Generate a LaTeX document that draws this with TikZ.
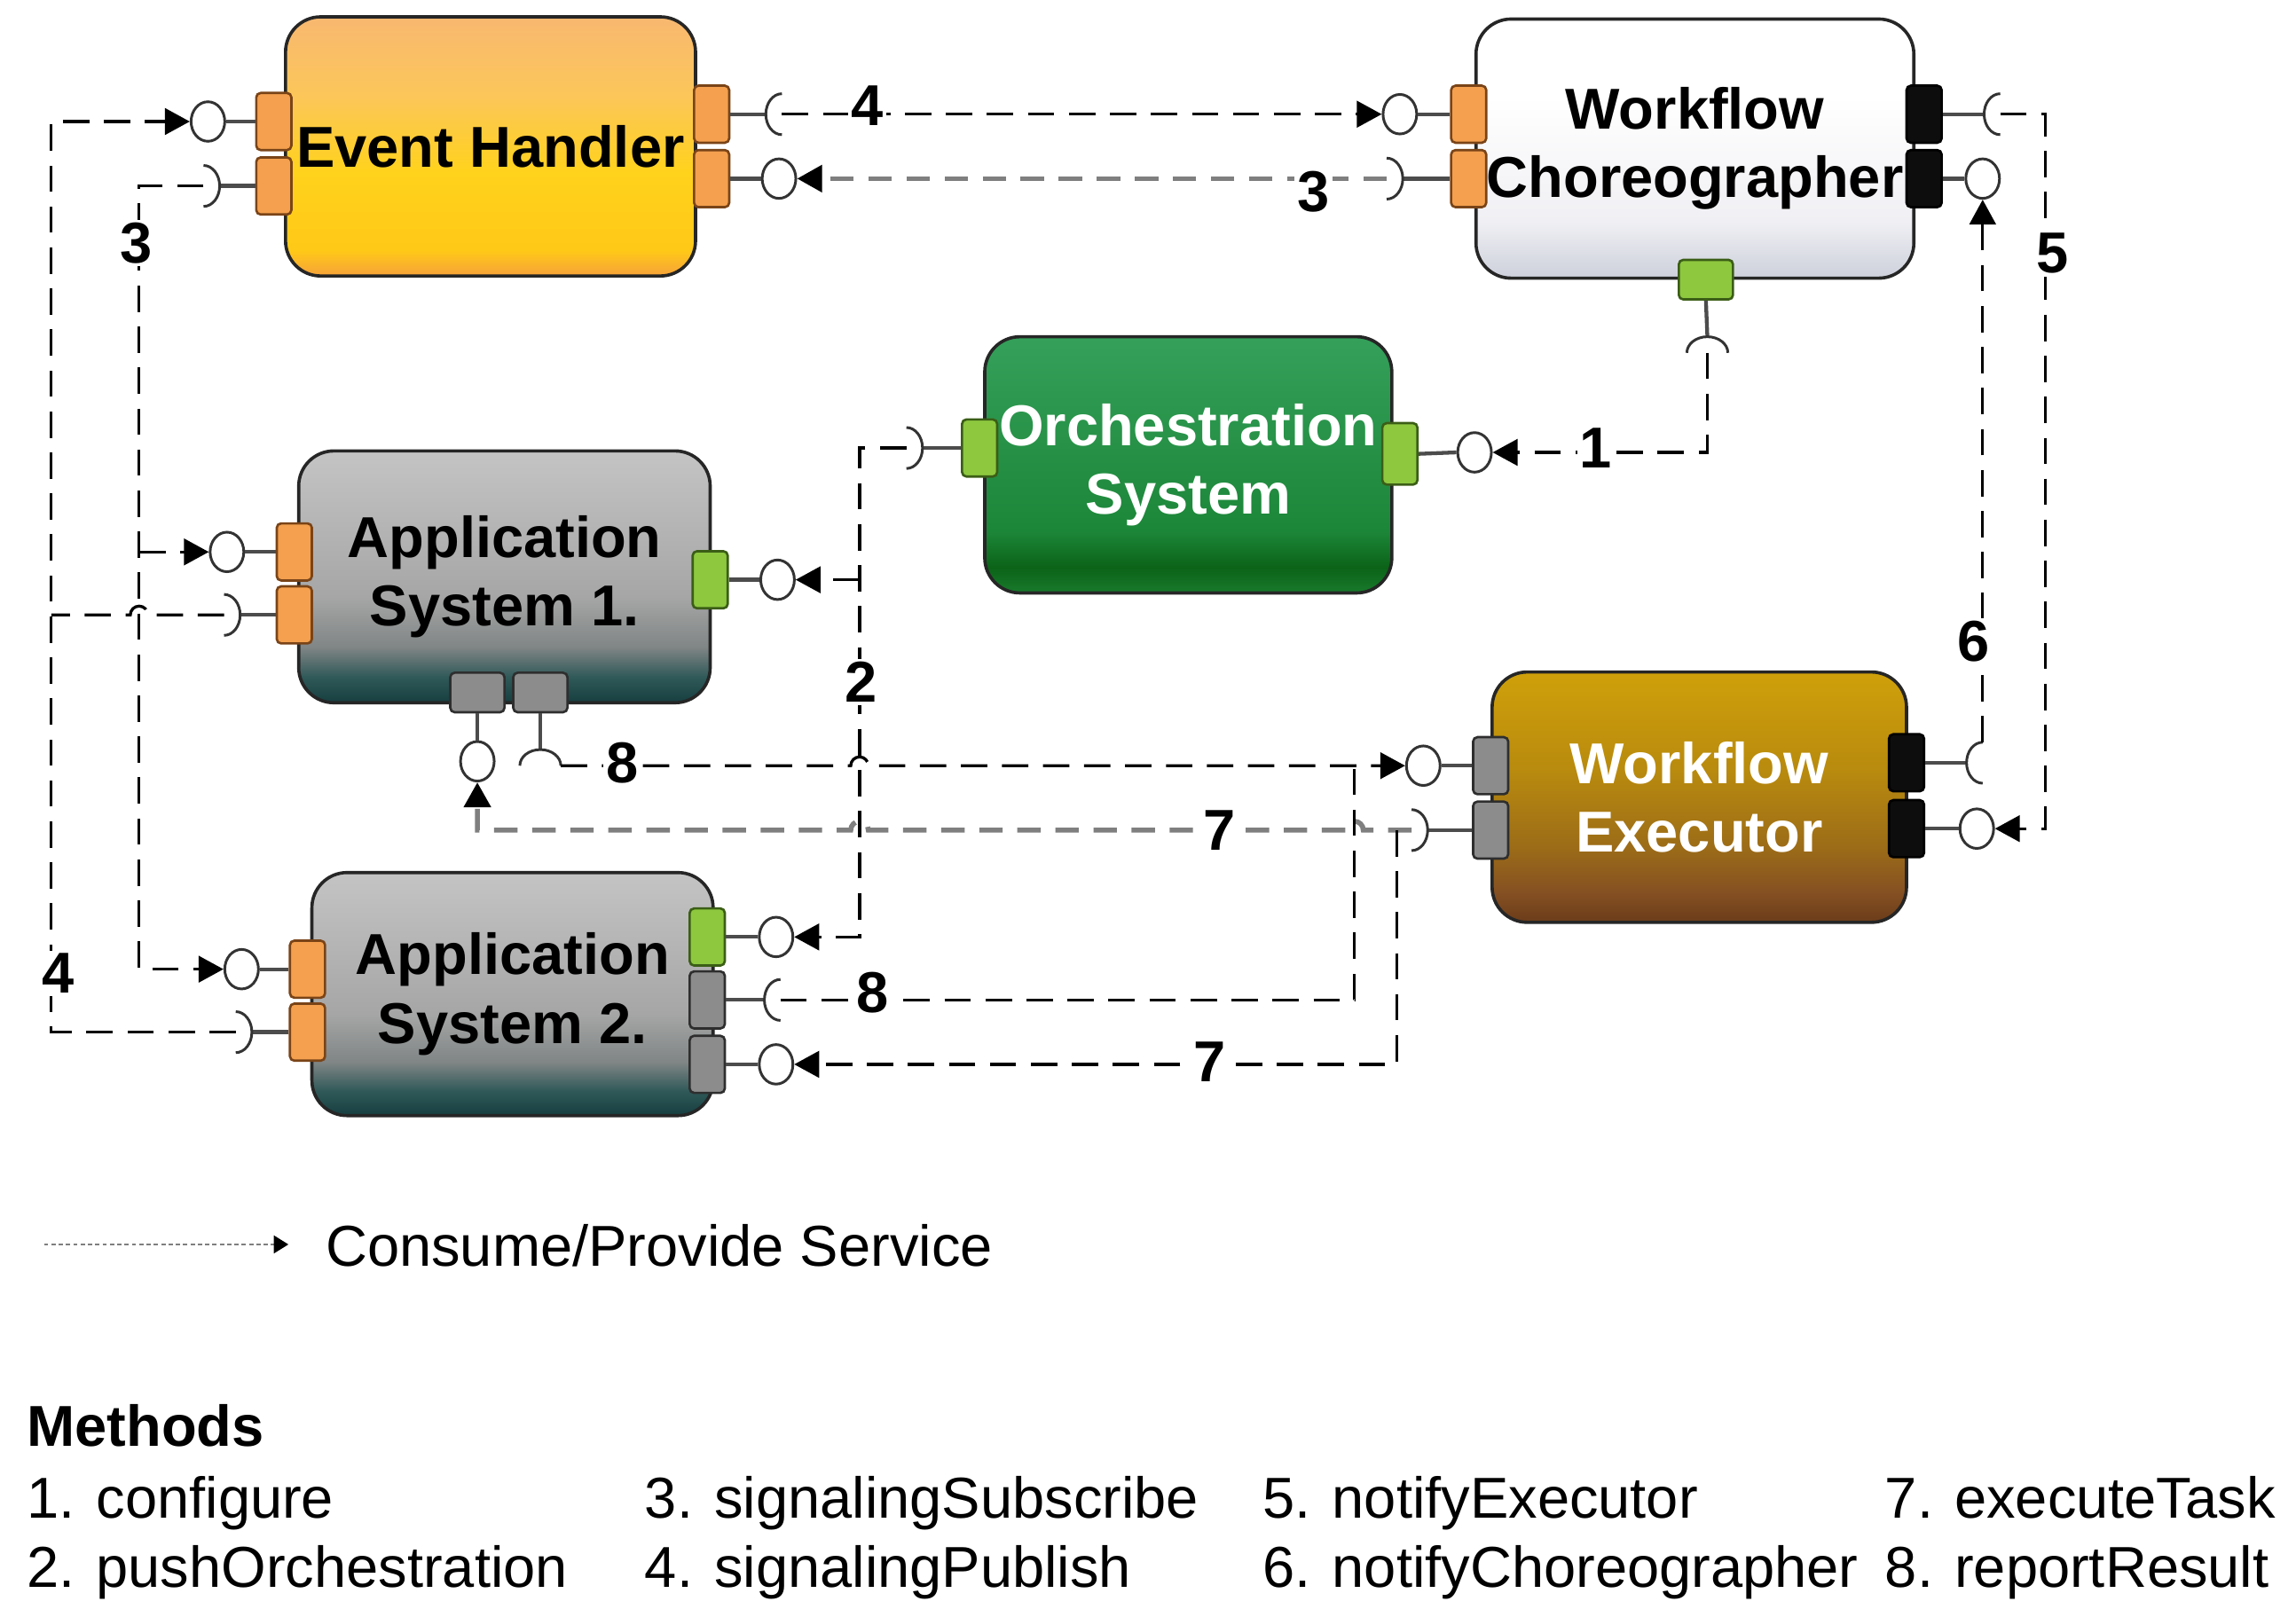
\documentclass[tikz,border=0pt]{standalone}
\usepackage{fontspec}
\setmainfont{Liberation Sans}
\usetikzlibrary{arrows.meta,shapes.geometric}
% box colours
\definecolor{ehT}{HTML}{F8B870}\definecolor{ehM}{HTML}{FCC65A}\definecolor{ehY}{HTML}{FFD21C}
\definecolor{ehYa}{HTML}{FFC917}\definecolor{ehB}{HTML}{F6A23A}
\definecolor{wcT}{HTML}{FFFFFF}\definecolor{wcM}{HTML}{F0F0F4}\definecolor{wcB}{HTML}{CDD0DB}
\definecolor{osT}{HTML}{34A05A}\definecolor{osM}{HTML}{1C8638}\definecolor{osD}{HTML}{0B6318}\definecolor{osB}{HTML}{197A2C}
\definecolor{asT}{HTML}{C4C4C4}\definecolor{asM}{HTML}{A6A6A6}\definecolor{asL}{HTML}{808585}\definecolor{asD}{HTML}{2F5858}\definecolor{asB}{HTML}{163E40}
\definecolor{weT}{HTML}{CFA00A}\definecolor{weM}{HTML}{B88A0E}\definecolor{weL}{HTML}{9C6C18}\definecolor{weD}{HTML}{855022}\definecolor{weB}{HTML}{6B3C1A}
% port colours
\definecolor{pOf}{HTML}{F4A04E}\definecolor{pOd}{HTML}{7A4418}
\definecolor{pGf}{HTML}{8DC83F}\definecolor{pGd}{HTML}{3B5E16}
\definecolor{pKf}{HTML}{8C8C8C}\definecolor{pKd}{HTML}{2E2E2E}
\definecolor{pBf}{HTML}{0D0D0D}
\definecolor{lineg}{HTML}{7F7F7F}
\pgfdeclareverticalshading{ehsh}{100bp}{color(0bp)=(ehB); color(25bp)=(ehB); color(30bp)=(ehYa); color(45bp)=(ehY); color(60bp)=(ehM); color(75bp)=(ehT); color(100bp)=(ehT)}
\pgfdeclareverticalshading{wcsh}{100bp}{color(0bp)=(wcB); color(25bp)=(wcB); color(36bp)=(wcM); color(60bp)=(wcT); color(100bp)=(wcT)}
\pgfdeclareverticalshading{ossh}{100bp}{color(0bp)=(osB); color(25bp)=(osB); color(30bp)=(osD); color(37bp)=(osM); color(75bp)=(osT); color(100bp)=(osT)}
\pgfdeclareverticalshading{assh}{100bp}{color(0bp)=(asB); color(25bp)=(asB); color(30bp)=(asD); color(36bp)=(asL); color(46bp)=(asM); color(75bp)=(asT); color(100bp)=(asT)}
\pgfdeclareverticalshading{wesh}{100bp}{color(0bp)=(weB); color(25bp)=(weB); color(31bp)=(weD); color(40bp)=(weL); color(55bp)=(weM); color(75bp)=(weT); color(100bp)=(weT)}
\newcommand\mysockR[2]{% ")" socket at #1, port #2 on its right
  \draw[stemln] (#2.west) -- ([xshift=5.5pt]#1);
  \draw[sockst] ([yshift=7pt]#1) arc[start angle=90,end angle=-90,x radius=5.5pt,y radius=7pt];}
\newcommand\mysockL[2]{% "(" socket at #1, port #2 on its left
  \draw[stemln] (#2.east) -- ([xshift=-5.5pt]#1);
  \draw[sockst] ([yshift=7pt]#1) arc[start angle=90,end angle=270,x radius=5.5pt,y radius=7pt];}
\newcommand\mysockD[2]{% cup opening downward at #1, port #2 above it
  \draw[stemln] (#2.south) -- ([yshift=5.5pt]#1);
  \draw[sockst] ([xshift=7pt]#1) arc[start angle=0,end angle=180,x radius=7pt,y radius=5.5pt];}
\begin{document}
\begin{tikzpicture}[x=0.5pt,y=-0.5pt,
  compbox/.style={draw=black!85, line width=1.1pt, rounded corners=12pt, align=center,
    font=\bfseries\fontsize{19.7}{23.5}\selectfont, inner sep=0pt},
  prt/.style={line width=0.8pt, rounded corners=1.5pt, minimum width=12pt, minimum height=19.5pt, inner sep=0pt},
  prtO/.style={prt, draw=pOd, fill=pOf},
  prtG/.style={prt, draw=pGd, fill=pGf},
  prtK/.style={prt, draw=pKd, fill=pKf},
  prtB/.style={prt, draw=black, fill=pBf},
  prtH/.style={minimum width=18.5pt, minimum height=13.5pt},
  lolli/.style={ellipse, draw=black!80, fill=white, line width=0.9pt, minimum width=11.5pt, minimum height=13.5pt, inner sep=0pt},
  stemln/.style={draw=black!70, line width=1.3pt},
  sockst/.style={draw=black!80, line width=0.9pt},
  conn/.style={draw=black, line width=1pt, dash pattern=on 9pt off 5pt},
  conng/.style={draw=lineg, line width=1.7pt, dash pattern=on 8pt off 5pt},
  arr/.style={-{Triangle[length=8.5pt,width=9pt,color=black]}},
  numlbl/.style={font=\bfseries\fontsize{19.7}{20}\selectfont, fill=white, inner sep=1pt},
  txt/.style={anchor=base west, inner sep=0pt, font=\fontsize{19.7}{23}\selectfont}]
\fill[white] (0,0) rectangle (1568,1104);
\useasboundingbox (0,0) rectangle (1568,1104);

% ---------------- components
\node[compbox, shading=ehsh, minimum width=140pt, minimum height=88.5pt] (eh) at (335,100) {Event Handler};
\node[compbox, shading=wcsh, minimum width=149.5pt, minimum height=88.5pt] (wc) at (1157.5,101.5) {Workflow\\Choreographer};
\node[compbox, shading=ossh, text=white, minimum width=139pt, minimum height=87.5pt] (os) at (811.5,317.5) {Orchestration\\System};
\node[compbox, shading=assh, minimum width=140.5pt, minimum height=86pt] (as1) at (344.5,394) {Application\\System 1.};
\node[compbox, shading=assh, minimum width=137pt, minimum height=83pt] (as2) at (350,679) {Application\\System 2.};
\node[compbox, shading=wesh, text=white, minimum width=141.5pt, minimum height=85.5pt] (we) at (1160.5,544.5) {Workflow\\Executor};

% ---------------- ports
\node[prtO] (ehpl1) at (187,83) {};
\node[prtO] (ehpl2) at (187,127) {};
\node[prtO] (ehpr1) at (486,78) {};
\node[prtO] (ehpr2) at (486,122) {};
\node[prtO] (wcpl1) at (1003,78) {};
\node[prtO] (wcpl2) at (1003,122) {};
\node[prtB] (wcpr1) at (1314,78) {};
\node[prtB] (wcpr2) at (1314,122) {};
\node[prtG, prtH] (wcpb) at (1165,191) {};
\node[prtG] (ospl) at (669,306) {};
\node[prtG, minimum height=21pt] (ospr) at (956,310) {};
\node[prtO] (as1pl1) at (201,377) {};
\node[prtO] (as1pl2) at (201,420) {};
\node[prtG] (as1pr) at (485,396) {};
\node[prtK, prtH] (as1pb1) at (326,473) {};
\node[prtK, prtH] (as1pb2) at (369,473) {};
\node[prtO] (as2pl1) at (210,662) {};
\node[prtO] (as2pl2) at (210,705) {};
\node[prtG] (as2pr1) at (483,640) {};
\node[prtK] (as2pr2) at (483,683) {};
\node[prtK] (as2pr3) at (483,727) {};
\node[prtK] (wepl1) at (1018,523) {};
\node[prtK] (wepl2) at (1018,567) {};
\node[prtB] (wepr1) at (1302,521) {};
\node[prtB] (wepr2) at (1302,566) {};

% ---------------- provided interfaces (lollipops)
\node[lolli] (ehc1) at (142,83) {};
\node[lolli] (ehc2) at (532,122) {};
\node[lolli] (wcc1) at (956,78) {};
\node[lolli] (wcc2) at (1354,122) {};
\node[lolli] (osc) at (1007,309) {};
\node[lolli] (as1c1) at (155,377) {};
\node[lolli] (as1c) at (531,396) {};
\node[lolli] (as1cb) at (326,520) {};
\node[lolli] (as2c1) at (165,662) {};
\node[lolli] (as2c2) at (530,640) {};
\node[lolli] (as2c4) at (530,727) {};
\node[lolli] (wec1) at (972,523) {};
\node[lolli] (wec2) at (1350,566) {};
\draw[stemln] (ehpl1.west) -- (ehc1.east);
\draw[stemln] (ehpr2.east) -- (ehc2.west);
\draw[stemln] (wcpl1.west) -- (wcc1.east);
\draw[stemln] (wcpr2.east) -- (wcc2.west);
\draw[stemln] (ospr.east) -- (osc.west);
\draw[stemln] (as1pl1.west) -- (as1c1.east);
\draw[stemln] (as1pr.east) -- (as1c.west);
\draw[stemln] (as1pb1.south) -- (as1cb.north);
\draw[stemln] (as2pl1.west) -- (as2c1.east);
\draw[stemln] (as2pr1.east) -- (as2c2.west);
\draw[stemln] (as2pr3.east) -- (as2c4.west);
\draw[stemln] (wepl1.west) -- (wec1.east);
\draw[stemln] (wepr2.east) -- (wec2.west);

% ---------------- required interfaces (sockets)
\coordinate (ehs2) at (139,127);
\coordinate (ehs1) at (534,78);
\coordinate (wcs2) at (947,122);
\coordinate (wcs1) at (1366,78);
\coordinate (wcsb) at (1166,241);
\coordinate (ossl) at (619,306);
\coordinate (as1s2) at (153,420);
\coordinate (as1sb) at (369,523);
\coordinate (as1sbR) at (383,523);
\coordinate (as2s2) at (161,705);
\coordinate (as2s3) at (533,683);
\coordinate (wes2) at (964,567);
\coordinate (wes1) at (1354,521);
\mysockR{ehs2}{ehpl2}
\mysockL{ehs1}{ehpr1}
\mysockR{wcs2}{wcpl2}
\mysockL{wcs1}{wcpr1}
\mysockD{wcsb}{wcpb}
\mysockR{ossl}{ospl}
\mysockR{as1s2}{as1pl2}
\mysockD{as1sb}{as1pb2}
\mysockR{as2s2}{as2pl2}
\mysockL{as2s3}{as2pr2}
\mysockR{wes2}{wepl2}
\mysockL{wes1}{wepr1}

% ---------------- bend points
\coordinate (b4t) at (35,83);
\coordinate (b4b) at (35,705);
\coordinate (j4) at (35,420);
\coordinate (b3t) at (95,127);
\coordinate (b3b) at (95,662);
\coordinate (j3) at (95,377);
\coordinate (b5t) at (1397,78);
\coordinate (b5b) at (1397,566);
\coordinate (b2t) at (587,306);
\coordinate (b2b) at (587,640);
\coordinate (j2) at (587,396);
\coordinate (b7) at (326,567);
\coordinate (j7) at (954,567);
\coordinate (b7b) at (954,727);
\coordinate (b8) at (925,683);
\coordinate (j8) at (925,523);

% ---------------- connectors
% 4 signalingPublish
\draw[conn,arr] (as2s2) -- (b4b) -- (b4t) -- (ehc1);
\draw[conn] (as1s2) -- (101,420) arc[start angle=0,end angle=180,radius=3pt] -- (j4);
\draw[conn,arr] (ehs1) -- (wcc1);
% 3 signalingSubscribe
\draw[conn,arr] (ehs2) -- (b3t) -- (b3b) -- (as2c1);
\draw[conn,arr] (j3) -- (as1c1);
\draw[conng,arr] (wcs2) -- (ehc2);
% 5 notifyExecutor
\draw[conn,arr] (wcs1) -- (b5t) -- (b5b) -- (wec2);
% 6 notifyChoreographer
\draw[conn,arr] ([yshift=7pt]wes1) -- (wcc2);
% 1 configure
\draw[conn,arr] (wcsb) |- (osc);
% 2 pushOrchestration
\draw[conn,arr] (ossl) -- (b2t) -- (b2b) -- (as2c2);
\draw[conn,arr] (j2) -- (as1c);
% 7 executeTask
\draw[conng,arr] (wes2) -- (931,567) arc[start angle=0,end angle=180,radius=3pt]
  -- (593,567) arc[start angle=0,end angle=180,radius=3pt] -- (b7) -- (as1cb);
\draw[conn,arr] (j7) -- (b7b) -- (as2c4);
% 8 reportResult
\draw[conn,arr] (as1sbR) -- (581,523) arc[start angle=180,end angle=0,radius=3pt] -- (wec1);
\draw[conn] (as2s3) -- (b8) -- (j8);

% ---------------- method numbers
\node[numlbl] (l4a) at (592,72) {4};
\node[numlbl] (l3a) at (897,131) {3};
\node[numlbl] (l3b) at (93,166) {3};
\node[numlbl] (l4b) at (40,665) {4};
\node[numlbl] (l5) at (1402,173) {5};
\node[numlbl] (l6) at (1348,438) {6};
\node[numlbl] (l1) at (1090,306) {1};
\node[numlbl] (l2) at (588,466) {2};
\node[numlbl] (l8a) at (425,521) {8};
\node[numlbl] (l8b) at (596,678) {8};
\node[numlbl] (l7a) at (833,567) {7};
\node[numlbl] (l7b) at (826,725) {7};

% ---------------- legend
\coordinate (lga) at (30,850);
\coordinate (lgb) at (197,850);
\draw[lineg, line width=0.8pt, dash pattern=on 1.5pt off 1pt, -{Triangle[length=5pt,width=6pt,color=black]}] (lga) -- (lgb);
\node[anchor=west, inner sep=0pt, font=\fontsize{19.7}{23}\selectfont] (lgt) at (222,851) {Consume/Provide Service};

\node[txt, font=\bfseries\fontsize{19.7}{23}\selectfont] (mh) at (18,988) {Methods};
\node[txt] (m1) at (18,1037) {1. configure};
\node[txt] (m2) at (18,1084) {2. pushOrchestration};
\node[txt] (m3) at (440,1037) {3. signalingSubscribe};
\node[txt] (m4) at (440,1084) {4. signalingPublish};
\node[txt] (m5) at (862,1037) {5. notifyExecutor};
\node[txt] (m6) at (862,1084) {6. notifyChoreographer};
\node[txt] (m7) at (1287,1037) {7. executeTask};
\node[txt] (m8) at (1287,1084) {8. reportResult};
\end{tikzpicture}
\end{document}
